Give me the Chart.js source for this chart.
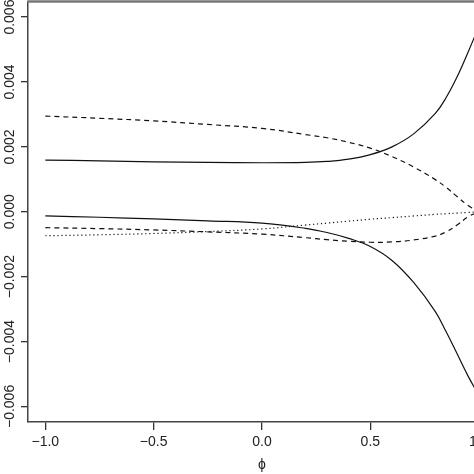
<!DOCTYPE html>
<html>
<head>
<meta charset="utf-8">
<script src="https://cdn.jsdelivr.net/npm/chart.js@4/dist/chart.umd.min.js"></script>
<style>
  html, body { margin: 0; padding: 0; background: #fff; }
  #wrap { width: 474px; height: 474px; overflow: hidden; position: relative; }
  canvas { display: block; }
</style>
</head>
<body>
<div id="wrap"><canvas id="c" width="520" height="474" style="width:520px;height:474px"></canvas></div>
<script>
// ---- data ----
const phi = [-1, -0.75, -0.5, -0.25, 0, 0.2, 0.3, 0.4, 0.5, 0.6, 0.7, 0.8, 0.85, 0.9, 0.95, 1];
const solidUpper  = [0.00159, 0.00157, 0.00154, 0.00152, 0.00151, 0.00152, 0.00155, 0.00162, 0.00176, 0.00200, 0.00240, 0.00303, 0.00352, 0.00415, 0.00490, 0.00570];
const dashedUpper = [0.00295, 0.00288, 0.00280, 0.00269, 0.00257, 0.00238, 0.00228, 0.00214, 0.00196, 0.00170, 0.00138, 0.00099, 0.00075, 0.00047, 0.00020, 0.00000];
const solidLower  = [-0.00013, -0.00017, -0.00022, -0.00028, -0.00035, -0.00051, -0.00064, -0.00082, -0.00107, -0.00150, -0.00218, -0.00308, -0.00370, -0.00437, -0.00505, -0.00565];
const dashedLower = [-0.00049, -0.00052, -0.00056, -0.00062, -0.00069, -0.00080, -0.00086, -0.00091, -0.00094, -0.00093, -0.00087, -0.00075, -0.00062, -0.00041, -0.00016, 0.00000];
const dottedLine  = [-0.00074, -0.00071, -0.00067, -0.00061, -0.00053, -0.00041, -0.00035, -0.00029, -0.00023, -0.00018, -0.00013, -0.00008, -0.00006, -0.00004, -0.00002, 0.00000];

const xTicks = [-1, -0.5, 0, 0.5, 1];
const xTickLabels = ["\u22121.0", "\u22120.5", "0.0", "0.5", "1.0"];
const yTicks = [-0.006, -0.004, -0.002, 0, 0.002, 0.004, 0.006];
const yTickLabels = ["\u22120.006", "\u22120.004", "\u22120.002", "0.000", "0.002", "0.004", "0.006"];
const xTitle = "\u03d5";

const FONT = "'Liberation Sans', Arial, Helvetica, sans-serif";
const pts = arr => arr.map((v, i) => ({ x: phi[i], y: v }));
const base = { borderColor: '#111', borderWidth: 1.2, pointRadius: 0, fill: false, tension: 0.4 };

const yLabelPlugin = {
  id: 'yLabels',
  afterDraw(chart) {
    const ctx = chart.ctx, ys = chart.scales.y, ca = chart.chartArea;
    ctx.save();
    // top box line
    ctx.strokeStyle = '#777';
    ctx.lineWidth = 2.5;
    ctx.beginPath();
    ctx.moveTo(ca.left - 0.75, ca.top);
    ctx.lineTo(ca.right, ca.top);
    ctx.stroke();
    // rotated y tick labels
    ctx.fillStyle = '#222';
    ctx.font = '14px ' + FONT;
    ctx.textAlign = 'center';
    ctx.textBaseline = 'middle';
    yTicks.forEach((v, i) => {
      const py = ys.getPixelForValue(v);
      ctx.save();
      ctx.translate(10, py);
      ctx.rotate(-Math.PI / 2);
      ctx.fillText(yTickLabels[i], 0, 0);
      ctx.restore();
    });
    ctx.restore();
  }
};

new Chart(document.getElementById('c'), {
  type: 'line',
  data: {
    datasets: [
      { ...base, data: pts(solidUpper) },
      { ...base, data: pts(dashedUpper), borderDash: [5, 4] },
      { ...base, data: pts(solidLower) },
      { ...base, data: pts(dashedLower), borderDash: [5, 4] },
      { ...base, data: pts(dottedLine), borderDash: [1.2, 2.8] }
    ]
  },
  options: {
    responsive: false,
    animation: false,
    devicePixelRatio: 1,
    layout: { padding: { top: 1.5, right: 24, left: 0, bottom: 0 } },
    plugins: { legend: { display: false }, tooltip: { enabled: false } },
    scales: {
      x: {
        type: 'linear',
        min: -1.08, max: 1.08,
        afterBuildTicks: s => { s.ticks = xTicks.map(v => ({ value: v })); },
        afterFit: s => { s.height = 52; },
        grid: { display: true, drawOnChartArea: false, drawTicks: true, tickLength: 8, color: '#333', lineWidth: 1.3 },
        border: { display: true, color: '#444', width: 1.5 },
        ticks: {
          color: '#222', padding: 4, maxRotation: 0, autoSkip: false,
          font: { family: FONT, size: 14 },
          callback: (v, i) => xTickLabels[i]
        },
        title: { display: true, text: xTitle, color: '#222', font: { family: FONT, size: 14 }, padding: { top: 0, bottom: 0 } }
      },
      y: {
        type: 'linear',
        min: -0.00648, max: 0.00648,
        afterBuildTicks: s => { s.ticks = yTicks.map(v => ({ value: v })); },
        afterFit: s => { s.width = 28; },
        grid: { display: true, drawOnChartArea: false, drawTicks: true, tickLength: 7, color: '#333', lineWidth: 1.3 },
        border: { display: true, color: '#444', width: 1.5 },
        ticks: { display: false }
      }
    }
  },
  plugins: [yLabelPlugin]
});
</script>
</body>
</html>
